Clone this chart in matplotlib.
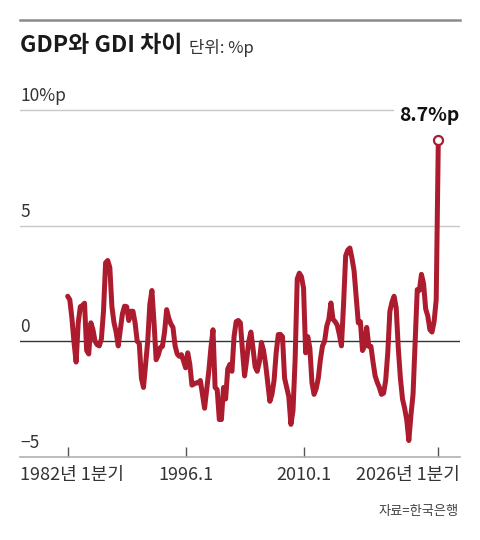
import matplotlib.pyplot as plt

# GDP와 GDI 차이 (%p), 1982년 1분기 ~ 2026년 1분기, 분기별
gap = [
    1.95, 1.8, 1.0, -0.05, -0.9, 0.8, 1.5, 1.55, 1.65, -0.4,
    -0.55, 0.8, 0.5, 0.0, -0.15, -0.2, 0.1, 1.3, 3.4, 3.5,
    3.2, 1.5, 0.8, 0.4, -0.2, 0.5, 1.2, 1.52, 1.5, 0.9,
    1.3, 1.3, 0.8, 0.0, -0.1, -1.6, -2.0, -1.0, 0.0, 1.6,
    2.2, 0.8, -0.8, -0.6, -0.27, -0.22, 0.4, 1.37, 1.0, 0.75,
    0.6, -0.2, -0.55, -0.65, -0.58, -0.85, -1.15, -0.5, -1.0, -1.9,
    -1.85, -1.8, -1.8, -1.7, -2.3, -2.9, -2.1, -1.3, -0.3, 0.5,
    -2.0, -2.1, -3.39, -3.39, -2.0, -2.5, -1.2, -1.0, -1.3, 0.2,
    0.85, 0.9, 0.8, -0.4, -1.5, -0.8, 0.0, 0.4, -0.3, -1.1,
    -1.3, -0.9, -0.05, -0.4, -1.0, -1.8, -2.6, -2.3, -1.7, -0.5,
    0.29, 0.3, 0.2, -1.6, -2.0, -2.4, -3.6, -3.0, -0.8, 2.7,
    2.95, 2.8, 2.3, -0.5, 0.2, -0.3, -1.8, -2.3, -2.05, -1.6,
    -0.8, -0.2, 0.0, 0.65, 0.95, 1.66, 0.95, 0.85, 0.7, 0.3,
    -0.2, 1.6, 3.7, 3.95, 4.04, 3.6, 3.05, 1.9, 0.8, 0.85,
    -0.4, -0.2, 0.6, -0.22, -0.22, -0.9, -1.5, -1.78, -2.0, -2.3,
    -2.25, -1.7, -0.5, 1.3, 1.7, 1.95, 1.45, -0.3, -1.6, -2.5,
    -2.9, -3.4, -4.3, -3.2, -2.3, 0.0, 2.24, 2.2, 2.9, 2.5,
    1.4, 1.1, 0.5, 0.4, 0.85, 1.8, 8.7,
]
quarters = list(range(len(gap)))

x_tick_pos = [0, 56, 112, 176]
x_tick_labels = ["1982년 1분기", "1996.1", "2010.1", "2026년 1분기"]
y_levels = [-5, 0, 5, 10]
y_labels = ["\u22125", "0", "5", "10%p"]

RED = "#ad1c2e"
X_MIN, X_MAX = -22.65, 186.3

plt.rcParams["font.family"] = ["Liberation Sans Narrow", "Noto Sans CJK KR"]

fig = plt.figure(figsize=(4.8, 5.4), dpi=100)
W, H = 480, 540
ax_bottom, ax_top = 456.7, 98.9
ax = fig.add_axes([20 / W, 1 - ax_bottom / H, 440 / W, (ax_bottom - ax_top) / H])
ax.set_xlim(X_MIN, X_MAX)
ax.set_ylim(-5, 10.5)

# grid
ax.axhline(10, xmin=0, xmax=(393 - 20) / 440, color="#c8c8c8", lw=1)
ax.axhline(5, color="#c8c8c8", lw=1)
ax.axhline(0, color="#333333", lw=1)

for lv, lb in zip(y_levels, y_labels):
    ax.annotate(lb, xy=(0, lv), xycoords=("axes fraction", "data"),
                xytext=(0, 5), textcoords="offset pixels",
                ha="left", va="bottom", fontsize=12.5, color="#333333")

ax.plot(quarters, gap, color=RED, lw=3.6, solid_joinstyle="round",
        solid_capstyle="round", clip_on=False, zorder=3)
ax.plot(quarters[-1], gap[-1], "o", ms=6.5, mfc="white", mec=RED, mew=1.6,
        zorder=4, clip_on=False)
ax.annotate(f"{gap[-1]}%p", xy=(quarters[-1], gap[-1]),
            xytext=(21, 15), textcoords="offset pixels", ha="right",
            va="bottom", fontsize=14, fontweight="bold", color="#111111")

for s in ["top", "left", "right"]:
    ax.spines[s].set_visible(False)
ax.spines["bottom"].set_color("#b0b0b0")
ax.spines["bottom"].set_linewidth(1.2)
ax.set_yticks([])
ax.set_xticks(x_tick_pos)
ax.set_xticklabels([])
ax.tick_params(axis="x", direction="in", length=7, width=1, color="#555555")

# x labels: first flush left, last flush right, others centred on tick
for i, (pos, lb) in enumerate(zip(x_tick_pos, x_tick_labels)):
    if i == 0:
        x, ha = X_MIN, "left"
    elif i == len(x_tick_pos) - 1:
        x, ha = X_MAX, "right"
    else:
        x, ha = pos, "center"
    ax.annotate(lb, xy=(x, -5), xytext=(0, -9), textcoords="offset pixels",
                ha=ha, va="top", fontsize=13, color="#333333",
                annotation_clip=False)

# title
fig.add_artist(plt.Line2D([20 / W, 460 / W], [1 - 20 / H, 1 - 20 / H],
                          color="#8a8a8a", lw=1.8))
title = fig.text(20 / W, 1 - 52 / H, "GDP와 GDI 차이", fontsize=16.5,
                 fontweight="bold", family=["Noto Sans CJK KR"],
                 color="#1a1a1a", va="baseline")
ax.annotate("단위: %p", xy=(1, 0), xycoords=title, xytext=(5, 0),
            textcoords="offset points", fontsize=12, color="#333333",
            family=["Noto Sans CJK KR"], va="bottom")

fig.text(459 / W, 1 - 512 / H, "자료=한국은행", ha="right", va="center",
         fontsize=9.5, color="#444444", family=["Noto Sans CJK KR"])

fig.savefig("out.png", dpi=100)
